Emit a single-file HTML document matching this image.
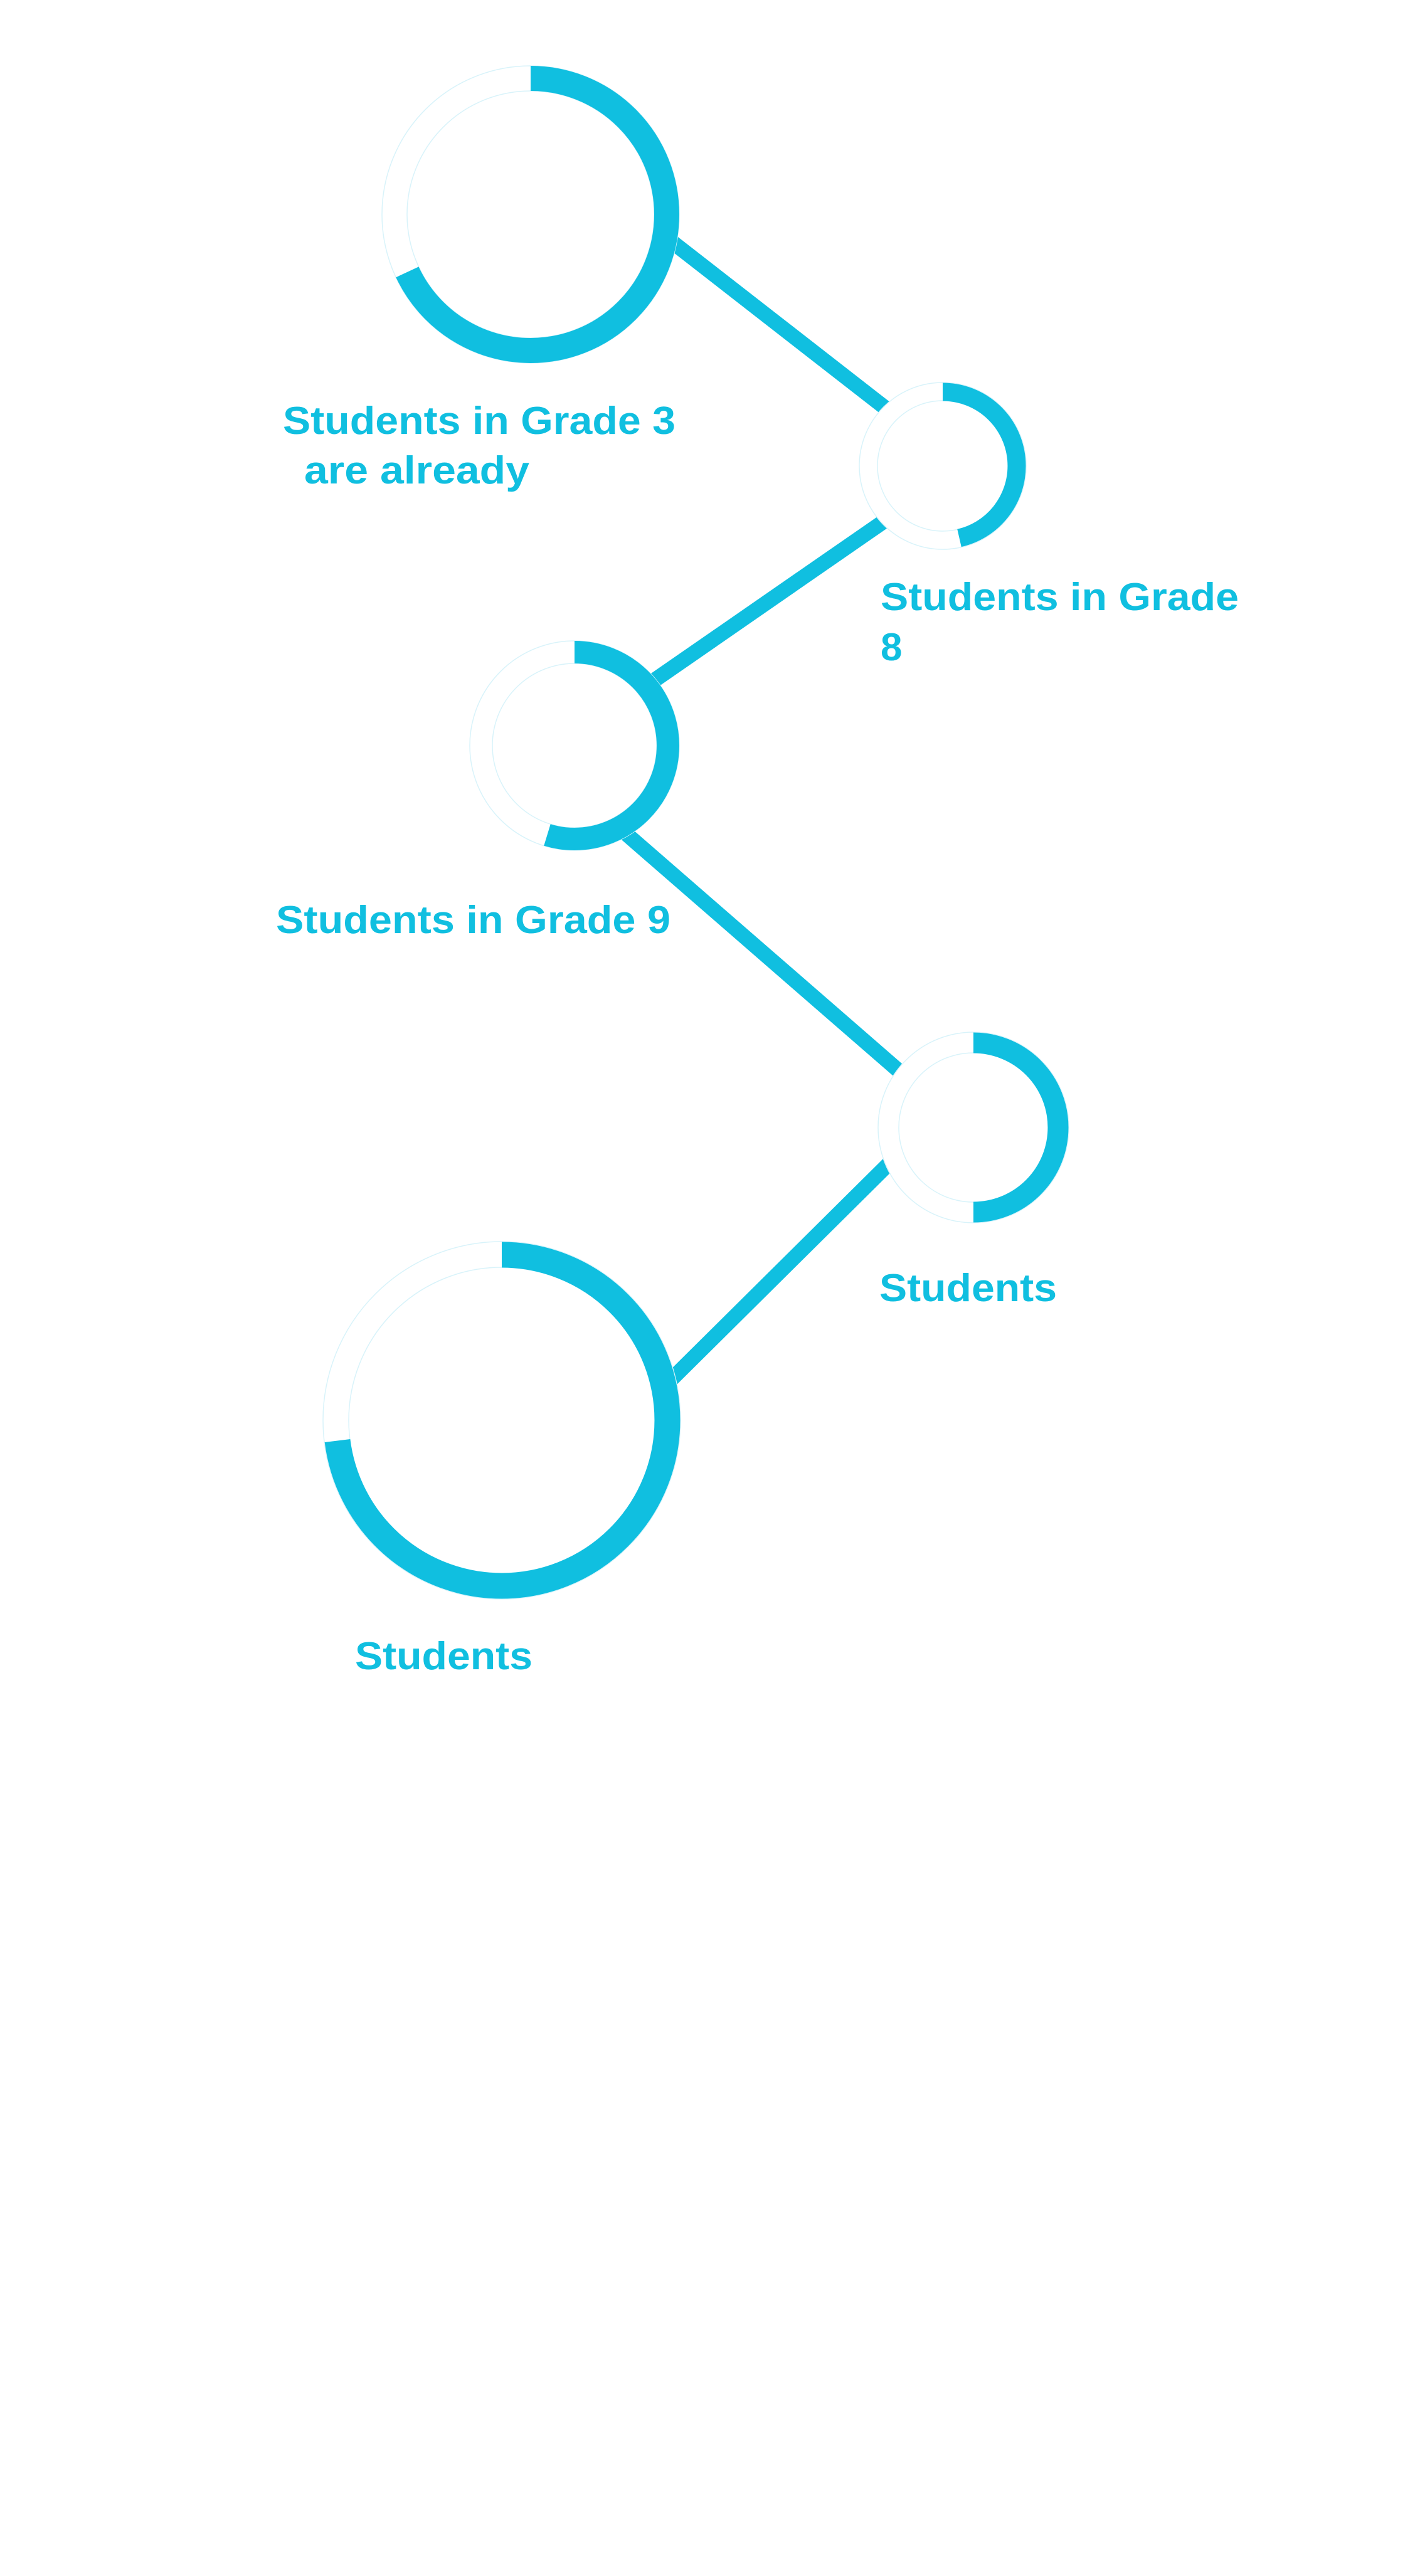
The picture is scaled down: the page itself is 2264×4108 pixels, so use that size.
<!DOCTYPE html>
<html><head><meta charset="utf-8"><style>
html,body{margin:0;padding:0;background:#fff;}
svg{display:block;}
text{font-family:"Liberation Sans",sans-serif;font-weight:bold;fill:#10bfe0;font-size:62px;}
</style></head><body>
<svg width="2264" height="4108" viewBox="0 0 2264 4108" xmlns="http://www.w3.org/2000/svg">
<g stroke="#10bfe0" stroke-width="24">
<line x1="1050" y1="369" x2="1430" y2="665"/>
<line x1="1430" y1="817" x2="1020" y2="1101"/>
<line x1="978" y1="1312" x2="1446" y2="1719"/>
<line x1="1433" y1="1840" x2="1050" y2="2220"/>
</g>
<g fill="#fff" stroke="#d8f3fa" stroke-width="1.5">
<circle cx="846" cy="342" r="237"/>
<circle cx="1503" cy="743" r="133"/>
<circle cx="916" cy="1189" r="167"/>
<circle cx="1552" cy="1798" r="152"/>
<circle cx="800" cy="2265" r="285"/>
</g>
<g fill="none" stroke="#d8f3fa" stroke-width="1.5">
<circle cx="846" cy="342" r="197"/>
<circle cx="1503" cy="743" r="104"/>
<circle cx="916" cy="1189" r="131"/>
<circle cx="1552" cy="1798" r="119"/>
<circle cx="800" cy="2265" r="244"/>
</g>
<g fill="none" stroke="#10bfe0">
<circle cx="846" cy="342" r="217" stroke-width="40" pathLength="360" stroke-dasharray="245 400" transform="rotate(-90 846 342)"/>
<circle cx="1503" cy="743" r="118" stroke-width="29" pathLength="360" stroke-dasharray="167 400" transform="rotate(-90 1503 743)"/>
<circle cx="916" cy="1189" r="149" stroke-width="36" pathLength="360" stroke-dasharray="197 400" transform="rotate(-90 916 1189)"/>
<circle cx="1552" cy="1798" r="135" stroke-width="33" pathLength="360" stroke-dasharray="180 400" transform="rotate(-90 1552 1798)"/>
<circle cx="800" cy="2265" r="264" stroke-width="41" pathLength="360" stroke-dasharray="263 400" transform="rotate(-90 800 2265)"/>
</g>
<text x="451" y="692" textLength="626" lengthAdjust="spacingAndGlyphs">Students in Grade 3</text>
<text x="485" y="771" textLength="359" lengthAdjust="spacingAndGlyphs">are already</text>
<text x="1404" y="973" textLength="571" lengthAdjust="spacingAndGlyphs">Students in Grade</text>
<text x="1404" y="1053">8</text>
<text x="440" y="1488" textLength="629" lengthAdjust="spacingAndGlyphs">Students in Grade 9</text>
<text x="1402" y="2075" textLength="283" lengthAdjust="spacingAndGlyphs">Students</text>
<text x="566" y="2662" textLength="283" lengthAdjust="spacingAndGlyphs">Students</text>
</svg>
</body></html>
